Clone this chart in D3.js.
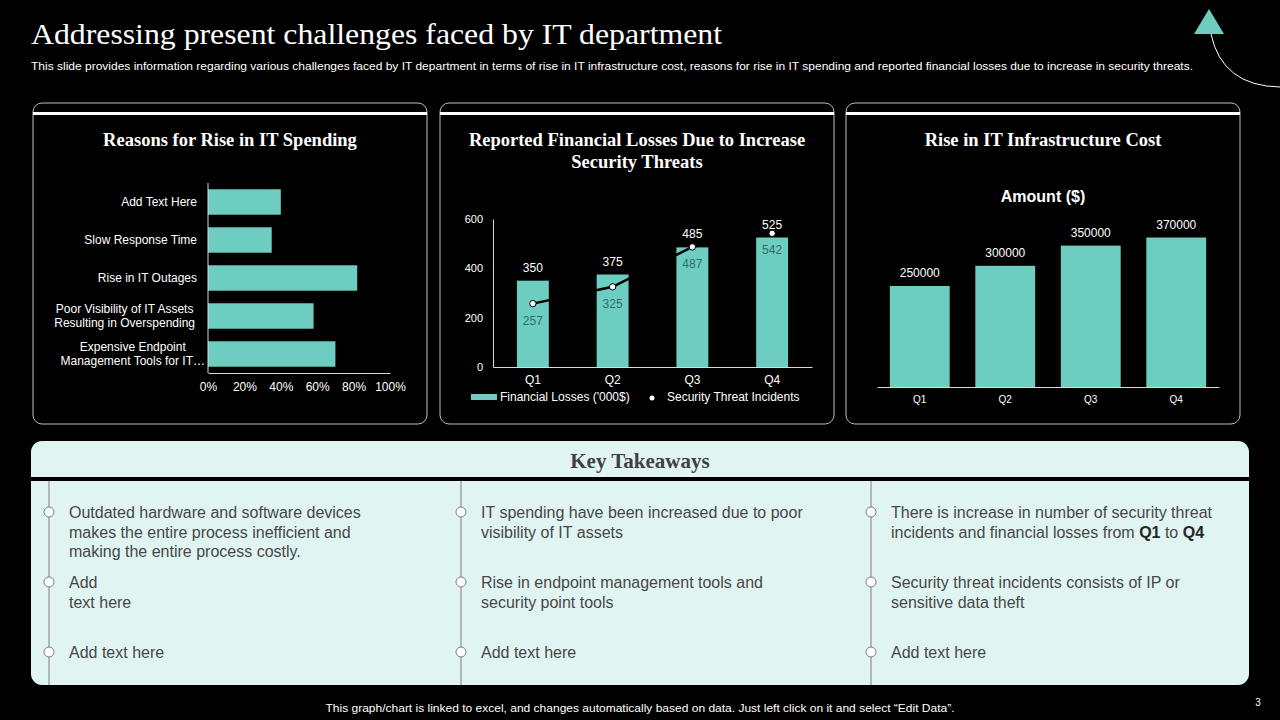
<!DOCTYPE html>
<html lang="en">
<head>
  <meta charset="UTF-8">
  <title>Addressing present challenges faced by IT department</title>
  <script src="https://d3js.org/d3.v7.min.js"></script>
  <style>
    body { margin: 0; background: #000; }
    svg { display: block; }
    text { font-family: "Liberation Sans", Arial, sans-serif; }
    .serif { font-family: "Liberation Serif", "Times New Roman", serif; }
  </style>
</head>
<body>
  <svg id="slide" width="1280" height="720"></svg>

  <script>
    // chart 1: reasons for rise in IT spending (share, %)
    const reasons = [
      ['Add Text Here'],
      ['Slow Response Time'],
      ['Rise in IT Outages'],
      ['Poor Visibility of IT Assets', 'Resulting in Overspending'],
      ['Expensive Endpoint', 'Management Tools for IT\u2026']
    ];
    const reasonValues = [40, 35, 82, 58, 70];
    const pctTicks = [0, 20, 40, 60, 80, 100];

    // chart 2: financial losses vs security threat incidents
    const quarters = ['Q1', 'Q2', 'Q3', 'Q4'];
    const losses = [350, 375, 485, 525];
    const incidents = [257, 325, 487, 542];
    const lossTicks = [0, 200, 400, 600];

    // chart 3: infrastructure cost
    const infraCost = [250000, 300000, 350000, 370000];

    // key takeaways, one array per column
    const takeaways = [
      [['Outdated hardware and software devices', 'makes the entire process inefficient and', 'making the entire process costly.'],
       ['Add', 'text here'],
       ['Add text here']],
      [['IT spending have been increased due to poor', 'visibility of IT assets'],
       ['Rise in endpoint management tools and', 'security point tools'],
       ['Add text here']],
      [['There is increase in number of security threat', 'incidents and financial losses from <b>Q1</b> to <b>Q4</b>'],
       ['Security threat incidents consists of IP or', 'sensitive data theft'],
       ['Add text here']]
    ];

    const teal = '#6ecdc1';
    const svg = d3.select('#slide');

    svg.append('rect').attr('width', 1280).attr('height', 720).attr('fill', '#000');

    // heading
    svg.append('text').attr('class', 'serif')
      .attr('x', 31).attr('y', 44)
      .attr('font-size', 30).attr('fill', '#fff')
      .attr('textLength', 691).attr('lengthAdjust', 'spacingAndGlyphs')
      .text('Addressing present challenges faced by IT department');

    svg.append('text')
      .attr('x', 31).attr('y', 70)
      .attr('font-size', 11).attr('fill', '#fff')
      .attr('textLength', 1162).attr('lengthAdjust', 'spacingAndGlyphs')
      .text('This slide provides information regarding various challenges faced by IT  department in terms of rise in IT infrastructure cost, reasons for rise in IT spending and reported financial losses due to increase in security threats.');

    // corner ornament
    svg.append('path')
      .attr('d', 'M1211,34 Q1222,86 1280,87')
      .attr('fill', 'none').attr('stroke', '#fff').attr('stroke-width', 1);
    svg.append('path')
      .attr('d', 'M1209,9 L1224,34 L1194,34 Z')
      .attr('fill', teal);

    // panels
    const panels = [
      { x: 33, title: ['Reasons for Rise in IT Spending'] },
      { x: 440, title: ['Reported Financial Losses Due to Increase', 'Security Threats'] },
      { x: 846, title: ['Rise in IT Infrastructure Cost'] }
    ];
    panels.forEach(p => {
      svg.append('rect')
        .attr('x', p.x).attr('y', 103).attr('width', 394).attr('height', 321)
        .attr('rx', 9).attr('fill', '#000')
        .attr('stroke', '#bfbfbf').attr('stroke-width', 1);
      svg.append('rect')
        .attr('x', p.x).attr('y', 112).attr('width', 394).attr('height', 3)
        .attr('fill', '#fff');
      p.title.forEach((t, i) => {
        svg.append('text').attr('class', 'serif')
          .attr('x', p.x + 197).attr('y', 146 + i * 22)
          .attr('text-anchor', 'middle')
          .attr('font-size', 18.5).attr('font-weight', 'bold').attr('fill', '#fff')
          .text(t);
      });
    });

    // ---- chart 1 ----
    const x1 = d3.scaleLinear().domain([0, 100]).range([208, 390]);
    const y1 = d3.scaleBand().domain(d3.range(reasons.length)).range([183, 373])
      .paddingInner(0.33).paddingOuter(0.165);
    const c1 = svg.append('g');

    c1.selectAll('rect.bar').data(reasonValues).join('rect')
      .attr('class', 'bar')
      .attr('x', x1(0)).attr('y', (d, i) => y1(i))
      .attr('width', d => x1(d) - x1(0)).attr('height', y1.bandwidth())
      .attr('fill', teal);

    c1.append('g')
      .attr('transform', `translate(0,${y1.range()[1]})`)
      .call(d3.axisBottom(x1).tickValues(pctTicks).tickFormat(d => d + '%').tickSize(0).tickPadding(9))
      .call(g => g.select('.domain').attr('stroke', '#d9d9d9'))
      .call(g => g.selectAll('text').attr('fill', '#fff').attr('font-size', 12)
        .attr('font-family', '"Liberation Sans", Arial, sans-serif'));

    c1.append('line')
      .attr('x1', x1(0)).attr('x2', x1(0))
      .attr('y1', y1.range()[0]).attr('y2', y1.range()[1])
      .attr('stroke', '#d9d9d9');

    reasons.forEach((lines, i) => {
      const cy = y1(i) + y1.bandwidth() / 2;
      const t = c1.append('text')
        .attr('font-size', 12).attr('fill', '#fff');
      lines.forEach((l, j) => {
        t.append('tspan')
          .attr('y', cy + 4 + (j - (lines.length - 1) / 2) * 14)
          .text(l);
      });
      if (lines.length === 1) {
        t.attr('text-anchor', 'end').selectAll('tspan').attr('x', 197);
      } else {
        // multi-line labels are centred on their widest line, right edge at the axis gap
        const w = d3.max(t.selectAll('tspan').nodes(), n => n.getComputedTextLength());
        t.attr('text-anchor', 'middle').selectAll('tspan').attr('x', 197 + (i === 4 ? 8 : -2) - w / 2);
      }
    });

    // ---- chart 2 ----
    const x2 = d3.scaleBand().domain(quarters).range([493, 812]).paddingInner(0.6).paddingOuter(0.3);
    const y2 = d3.scaleLinear().domain([0, 600]).range([367, 219]);
    const c2 = svg.append('g');

    c2.selectAll('rect.bar').data(losses).join('rect')
      .attr('class', 'bar')
      .attr('x', (d, i) => x2(quarters[i])).attr('y', d => y2(d))
      .attr('width', x2.bandwidth()).attr('height', d => y2(0) - y2(d))
      .attr('fill', teal);

    c2.append('g')
      .attr('transform', `translate(0,${y2(0)})`)
      .call(d3.axisBottom(x2).tickSize(0).tickPadding(8))
      .call(g => g.select('.domain').attr('stroke', '#d9d9d9'))
      .call(g => g.selectAll('text').attr('fill', '#fff').attr('font-size', 12)
        .attr('font-family', '"Liberation Sans", Arial, sans-serif'));

    c2.append('g')
      .attr('transform', `translate(493,0)`)
      .call(d3.axisLeft(y2).tickValues(lossTicks).tickSize(0).tickPadding(10))
      .call(g => g.select('.domain').attr('stroke', '#d9d9d9'))
      .call(g => g.selectAll('text').attr('fill', '#fff').attr('font-size', 11)
        .attr('font-family', '"Liberation Sans", Arial, sans-serif'));

    const cx2 = i => x2(quarters[i]) + x2.bandwidth() / 2;

    c2.append('path')
      .datum(incidents)
      .attr('d', d3.line().x((d, i) => cx2(i)).y(d => y2(d)))
      .attr('fill', 'none').attr('stroke', '#000').attr('stroke-width', 2.5);

    c2.selectAll('circle.pt').data(incidents).join('circle')
      .attr('class', 'pt')
      .attr('cx', (d, i) => cx2(i)).attr('cy', d => y2(d)).attr('r', 3.2)
      .attr('fill', '#fff').attr('stroke', '#000').attr('stroke-width', 1);

    c2.selectAll('text.lossLbl').data(losses).join('text')
      .attr('class', 'lossLbl')
      .attr('x', (d, i) => cx2(i)).attr('y', d => y2(d) - 9)
      .attr('text-anchor', 'middle').attr('font-size', 12).attr('fill', '#fff')
      .text(d => d);

    c2.selectAll('text.incLbl').data(incidents).join('text')
      .attr('class', 'incLbl')
      .attr('x', (d, i) => cx2(i)).attr('y', d => y2(d) + 21)
      .attr('text-anchor', 'middle').attr('font-size', 12).attr('fill', '#2f6f69')
      .text(d => d);

    // legend
    c2.append('rect').attr('x', 471).attr('y', 394).attr('width', 26).attr('height', 6).attr('fill', teal);
    c2.append('text').attr('x', 500).attr('y', 401).attr('font-size', 12).attr('fill', '#fff')
      .text("Financial Losses  ('000$)");
    c2.append('circle').attr('cx', 652).attr('cy', 398).attr('r', 2.5).attr('fill', '#fff');
    c2.append('text').attr('x', 667).attr('y', 401).attr('font-size', 12).attr('fill', '#fff')
      .text('Security  Threat Incidents');

    // ---- chart 3 ----
    const x3 = d3.scaleBand().domain(quarters).range([877, 1219]).paddingInner(0.3).paddingOuter(0.15);
    const y3 = d3.scaleLinear().domain([0, 400000]).range([387, 225.4]);
    const c3 = svg.append('g');

    c3.append('text')
      .attr('x', 1043).attr('y', 202).attr('text-anchor', 'middle')
      .attr('font-size', 16).attr('font-weight', 'bold').attr('fill', '#fff')
      .text('Amount ($)');

    c3.selectAll('rect.bar').data(infraCost).join('rect')
      .attr('class', 'bar')
      .attr('x', (d, i) => x3(quarters[i])).attr('y', d => y3(d))
      .attr('width', x3.bandwidth()).attr('height', d => y3(0) - y3(d))
      .attr('fill', teal);

    c3.selectAll('text.val').data(infraCost).join('text')
      .attr('class', 'val')
      .attr('x', (d, i) => x3(quarters[i]) + x3.bandwidth() / 2).attr('y', d => y3(d) - 9)
      .attr('text-anchor', 'middle').attr('font-size', 12).attr('fill', '#fff')
      .text(d => d);

    c3.append('g')
      .attr('transform', `translate(0,${y3(0)})`)
      .call(d3.axisBottom(x3).tickSize(0).tickPadding(9))
      .call(g => g.select('.domain').attr('stroke', '#d9d9d9'))
      .call(g => g.selectAll('text').attr('fill', '#fff').attr('font-size', 10)
        .attr('font-family', '"Liberation Sans", Arial, sans-serif'));

    // ---- key takeaways ----
    svg.append('rect')
      .attr('x', 31).attr('y', 441).attr('width', 1218).attr('height', 244)
      .attr('rx', 11).attr('fill', '#e0f4f2');
    svg.append('rect')
      .attr('x', 31).attr('y', 477).attr('width', 1218).attr('height', 4)
      .attr('fill', '#000');
    svg.append('text').attr('class', 'serif')
      .attr('x', 640).attr('y', 468).attr('text-anchor', 'middle')
      .attr('font-size', 21).attr('font-weight', 'bold').attr('fill', '#404040')
      .text('Key Takeaways');

    const colX = [49, 461, 871];
    const rowY = [512, 582, 652];
    takeaways.forEach((col, c) => {
      svg.append('line')
        .attr('x1', colX[c]).attr('x2', colX[c])
        .attr('y1', 481).attr('y2', 685)
        .attr('stroke', '#7f7f7f').attr('stroke-width', 1);
      col.forEach((lines, r) => {
        svg.append('circle')
          .attr('cx', colX[c]).attr('cy', rowY[r]).attr('r', 5)
          .attr('fill', '#fff').attr('stroke', '#7f7f7f').attr('stroke-width', 1);
        const t = svg.append('text')
          .attr('font-size', 16).attr('fill', '#474747');
        lines.forEach((l, j) => {
          const ts = t.append('tspan')
            .attr('x', colX[c] + 20).attr('y', rowY[r] + 6 + j * 19.5);
          l.split(/(<b>.*?<\/b>)/).forEach(part => {
            if (!part) return;
            const bold = part.startsWith('<b>');
            ts.append('tspan')
              .attr('font-weight', bold ? 'bold' : null)
              .attr('fill', bold ? '#262626' : null)
              .text(part.replace(/<\/?b>/g, ''));
          });
        });
      });
    });

    // footer
    svg.append('text')
      .attr('x', 640).attr('y', 712).attr('text-anchor', 'middle')
      .attr('font-size', 11.5).attr('fill', '#fff')
      .attr('textLength', 629).attr('lengthAdjust', 'spacingAndGlyphs')
      .text('This graph/chart is linked to excel, and changes automatically based on data. Just left click on it and select \u201cEdit Data\u201d.');
    svg.append('text')
      .attr('x', 1258).attr('y', 706).attr('text-anchor', 'middle')
      .attr('font-size', 10).attr('fill', '#fff')
      .text('3');
  </script>
</body>
</html>
